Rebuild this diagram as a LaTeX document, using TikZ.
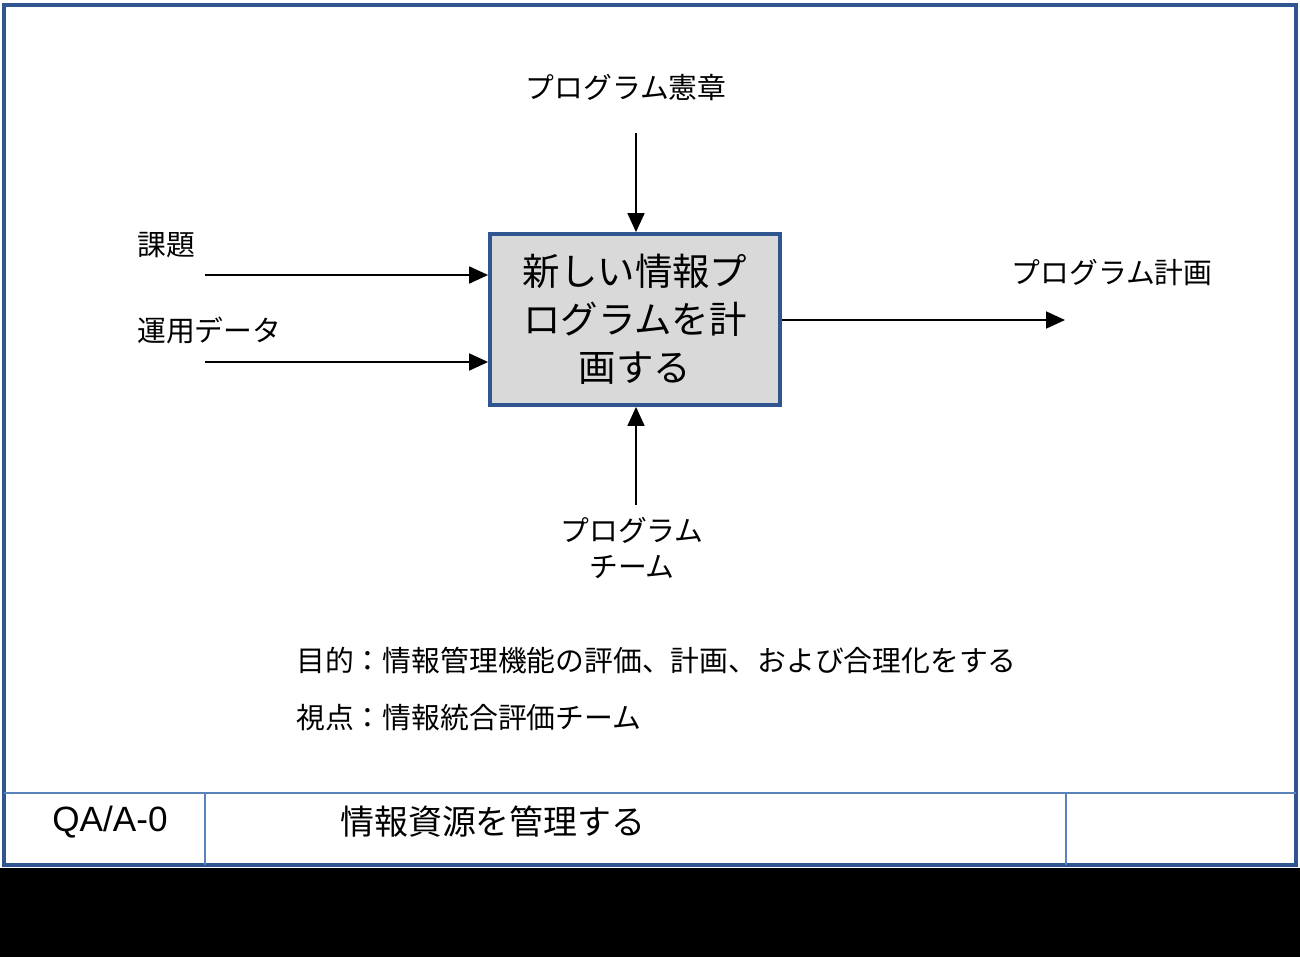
\documentclass[tikz,border=0pt]{standalone}
\usepackage{fontspec}
\setmainfont{Noto Sans CJK JP}
\newfontfamily\codefont{Liberation Sans}
\usetikzlibrary{arrows.meta}
\definecolor{framecol}{RGB}{48,86,146}
\definecolor{barcol}{RGB}{92,130,188}
\definecolor{boxfill}{RGB}{217,217,217}
\begin{document}
\begin{tikzpicture}[
  x=0.02cm,y=-0.02cm,
  label/.style={inner sep=0pt,font=\fontsize{16.4}{21}\selectfont,align=center},
  activity/.style={draw=framecol,line width=2.2pt,fill=boxfill,minimum width=5.8cm,minimum height=3.42cm,align=center,
    font=\fontsize{21.3}{27.2}\selectfont},
  flow/.style={-{Triangle[length=0.38cm,width=0.34cm]},line width=1pt}
]
  \useasboundingbox (0,0) rectangle (1300,957);
  \fill[white] (0,0) rectangle (1300,868);
  \fill[black] (0,868) rectangle (1300,957);

  % frame and title bar
  \draw[framecol,line width=2.4pt] (4,5) rectangle (1296,865);
  \draw[barcol,line width=1pt] (4,793) -- (1296,793);
  \draw[barcol,line width=1pt] (205,793) -- (205,865);
  \draw[barcol,line width=1pt] (1066,793) -- (1066,865);

  \node[activity] (plan) at (635,319.5) {新しい情報プ\\ログラムを計\\画する};

  \node[label] (charter) at (626,88) {プログラム憲章};
  \node[label,anchor=west] (issue) at (137,245) {課題};
  \node[label,anchor=west] (opdata) at (137,330) {運用データ};
  \node[label] (result) at (1112,273) {プログラム計画};
  \node[label] (team) at (632,548) {プログラム\\チーム};

  \coordinate (charterstart) at (636,133);
  \coordinate (issuestart) at (205,275);
  \coordinate (opdatastart) at (205,362);
  \coordinate (resultend) at (1065,320);
  \coordinate (teamstart) at (636,505);

  \draw[flow] (charterstart) -- (charterstart |- plan.north);
  \draw[flow] (issuestart) -- (issuestart -| plan.west);
  \draw[flow] (opdatastart) -- (opdatastart -| plan.west);
  \draw[flow] (plan.east |- resultend) -- (resultend);
  \draw[flow] (teamstart) -- (teamstart |- plan.south);

  \node[label,anchor=west] (purpose) at (296,660) {目的：情報管理機能の評価、計画、および合理化をする};
  \node[label,anchor=west] (viewpoint) at (296,718) {視点：情報統合評価チーム};

  \node[inner sep=0pt,font=\codefont\fontsize{20}{24}\selectfont] (code) at (110,822) {QA/A-0};
  \node[inner sep=0pt,anchor=west,font=\fontsize{19.3}{24}\selectfont] (title) at (340,822) {情報資源を管理する};
\end{tikzpicture}
\end{document}
